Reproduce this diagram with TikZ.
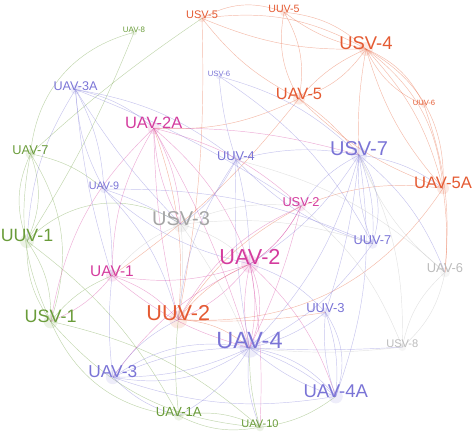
\documentclass[tikz,border=0pt]{standalone}
\usepackage{fontspec}
\setmainfont{Liberation Sans}
\definecolor{cO}{RGB}{228,90,50}
\definecolor{cP}{RGB}{122,116,214}
\definecolor{cM}{RGB}{212,60,158}
\definecolor{cG}{RGB}{106,156,58}
\definecolor{cY}{RGB}{165,165,165}
\definecolor{cL}{RGB}{188,188,188}
\tikzset{
  edge/.style={line width=0.45pt, opacity=0.42},
  eo/.style={edge, draw=cO},
  ep/.style={edge, draw=cP},
  em/.style={edge, draw=cM},
  eg/.style={edge, draw=cG},
  ey/.style={edge, draw=cL},
  lbl/.style={inner sep=0pt, anchor=center},
  glow/.style={opacity=0.13},
}
\newcommand\fs[1]{\fontsize{#1}{#1}\selectfont}
\begin{document}
\begin{tikzpicture}[x=1pt,y=1pt]
\useasboundingbox (0,0) rectangle (474,436);
% node points
\coordinate (pusv5) at (202,417.7);
\coordinate (puuv5) at (284,423.8);
\coordinate (pusv4) at (366,387);
\coordinate (puav8) at (134,403.6);
\coordinate (pusv6) at (219,359.7);
\coordinate (puav5) at (299,337.4);
\coordinate (puuv6) at (424,331);
\coordinate (puav3a) at (75.5,346.5);
\coordinate (puav2a) at (153.7,307.8);
\coordinate (puav7) at (30.5,282.2);
\coordinate (puuv4) at (236,276.2);
\coordinate (pusv7) at (359,281);
\coordinate (puav5a) at (443,247.7);
\coordinate (puav9) at (104,246.8);
\coordinate (pusv3) at (181,211.7);
\coordinate (pusv2) at (301,229.7);
\coordinate (puuv1) at (27,194.9);
\coordinate (puuv7) at (372.5,192.2);
\coordinate (puav6) at (445,163.6);
\coordinate (puav1) at (112,160.3);
\coordinate (puav2) at (250,172);
\coordinate (puuv2) at (178.3,116.5);
\coordinate (pusv1) at (50.7,114.6);
\coordinate (puuv3) at (325.5,123.6);
\coordinate (puav4) at (249.5,88.2);
\coordinate (pusv8) at (402.3,88.9);
\coordinate (puav3) at (112.8,58.8);
\coordinate (puav4a) at (335.8,39.6);
\coordinate (puav1a) at (178.8,20.3);
\coordinate (puav10) at (260,8.7);

% ---- green edges
\draw[eg] (puav8) to[bend right=35] (puav7);
\draw[eg] (puav8) to[bend left=5] (puuv1);
\draw[eg] (pusv5) to[bend right=4] (puav7);
\draw[eg] (puav7) to[bend left=22] (puuv1);
\draw[eg] (puav7) to[bend right=22] (puuv1);
\draw[eg] (puav7) to[bend left=25] (pusv1);
\draw[eg] (puav7) to[bend right=18] (pusv1);
\draw[eg] (puuv1) to[bend left=18] (pusv1);
\draw[eg] (puuv1) to[bend right=18] (pusv1);
\draw[eg] (puuv1) to[bend left=40] (pusv3);
\draw[eg] (puuv1) to[bend left=12] (puav1a);
\draw[eg] (pusv1) to[bend right=30] (puav1a);
\draw[eg] (pusv1) to[bend left=14] (puav10);
\draw[eg] (pusv1) to[bend right=22] (puav10);
\draw[eg] (pusv1) to[bend left=14] (puav1);
\draw[eg] (puav1a) to[bend left=18] (puav10);
\draw[eg] (puav1a) to[bend right=18] (puav10);
\draw[eg] (puav1a) to[bend left=6] (puuv2);
\draw[eg] (puav10) to[bend right=14] (puav4a);
\draw[eg] (puav10) to[bend left=8] (puav4);
\draw[eg] (puav7) to[bend left=14] (puav9);

% ---- orange edges
\draw[eo] (pusv5) to[bend left=25] (puuv5);
\draw[eo] (pusv5) to[bend left=18] (pusv4);
\draw[eo] (pusv5) to[bend right=12] (pusv4);
\draw[eo] (puuv5) to[bend left=18] (pusv4);
\draw[eo] (pusv4) to[bend left=12] (puuv5);
\draw[eo] (puuv5) to[bend left=20] (puav5);
\draw[eo] (puav5) to[bend left=20] (puuv5);
\draw[eo] (pusv4) to[bend left=18] (puav5);
\draw[eo] (puav5) to[bend left=12] (pusv4);
\draw[eo] (pusv4) to[bend left=20] (puuv6);
\draw[eo] (puuv6) to[bend left=20] (pusv4);
\draw[eo] (pusv4) to[bend left=14] (puav5a);
\draw[eo] (pusv4) to[bend left=24] (puav5a);
\draw[eo] (pusv4) to[bend left=32] (puav5a);
\draw[eo] (pusv4) to[bend right=12] (puav5a);
\draw[eo] (pusv4) to[bend right=6] (pusv7);
\draw[eo] (puuv6) to[bend left=12] (puav6);
\draw[eo] (puav5) to[bend left=8] (pusv7);
\draw[eo] (puav5) to[bend right=12] (puav5a);
\draw[eo] (pusv5) to[bend left=6] (puuv2);
\draw[eo] (pusv5) to[bend right=12] (puav5);
\draw[eo] (puav5) to[bend left=14] (puav2a);
\draw[eo] (puav5) to[bend left=8] (puav1);
\draw[eo] (puav5a) to[bend right=14] (pusv2);
\draw[eo] (puav5a) to[bend left=30] (puuv2);
\draw[eo] (puav5a) to[bend left=6] (puav6);
\draw[eo] (puuv2) to[bend left=14] (puav2);
\draw[eo] (puuv2) to[bend left=18] (puav4);
\draw[eo] (puuv2) to[bend right=6] (puuv3);
\draw[eo] (puuv2) to[bend left=14] (pusv2);
\draw[eo] (puuv2) to[bend right=12] (puav2a);

% ---- magenta edges
\draw[em] (puav2a) to[bend left=12] (pusv3);
\draw[em] (puav2a) to[bend right=12] (pusv3);
\draw[em] (puav2a) to[bend left=14] (puav2);
\draw[em] (puav2a) to[bend right=15] (puav1);
\draw[em] (puav2a) to[bend right=6] (puuv2);
\draw[em] (puav2a) to[bend left=14] (pusv2);
\draw[em] (puav2a) to[bend left=8] (pusv7);
\draw[em] (puav2a) to[bend left=6] (puav4);
\draw[em] (puav2a) to[bend right=18] (pusv1);
\draw[em] (puav2) to[bend left=12] (puav4);
\draw[em] (puav2) to[bend right=12] (puav4);
\draw[em] (puav2) to[bend left=24] (puav4);
\draw[em] (puav2) to[bend left=14] (puuv2);
\draw[em] (puav2) to[bend right=14] (pusv2);
\draw[em] (puav2) to[bend left=14] (puav1);
\draw[em] (puav2) to[bend right=14] (puav3);
\draw[em] (puav2) to[bend left=14] (puav4a);
\draw[em] (puav2) to[bend left=6] (puav10);
\draw[em] (puav1) to[bend left=14] (puuv2);
\draw[em] (puav1) to[bend left=14] (pusv1);
\draw[em] (puav1) to[bend right=12] (puav4);
\draw[em] (pusv2) to[bend left=6] (puav4);
\draw[em] (pusv2) to[bend left=14] (puav2);
\draw[em] (pusv2) to[bend right=18] (puuv2);

% ---- purple edges
\draw[ep] (puav3a) to[bend left=12] (puav9);
\draw[ep] (puav3a) to[bend right=12] (puav9);
\draw[ep] (puav3a) to[bend right=6] (pusv3);
\draw[ep] (puav3a) to[bend left=14] (puav2a);
\draw[ep] (puav3a) to[bend left=14] (puuv4);
\draw[ep] (puav3a) to[bend left=6] (pusv2);
\draw[ep] (puav3a) to[bend right=14] (puuv1);
\draw[ep] (puav3a) to[bend right=6] (puav1);
\draw[ep] (puav9) to[bend left=6] (pusv3);
\draw[ep] (puav9) to[bend left=12] (puuv7);
\draw[ep] (puav9) to[bend right=14] (puav2);
\draw[ep] (puav9) to[bend left=6] (puav1);
\draw[ep] (puav9) to[bend left=14] (puuv2);
\draw[ep] (pusv6) to[bend left=14] (pusv7);
\draw[ep] (pusv6) to[bend right=6] (puuv4);
\draw[ep] (pusv6) to[bend left=14] (puuv7);
\draw[ep] (puuv4) to[bend left=12] (pusv7);
\draw[ep] (puuv4) to[bend right=14] (puuv7);
\draw[ep] (puuv4) to[bend left=6] (puav2);
\draw[ep] (puuv4) to[bend right=6] (puav4);
\draw[ep] (puuv4) to[bend left=14] (pusv3);
\draw[ep] (puuv4) to[bend right=14] (puuv2);
\draw[ep] (pusv7) to[bend left=12] (puuv7);
\draw[ep] (pusv7) to[bend right=12] (puuv7);
\draw[ep] (pusv7) to[bend left=26] (puuv7);
\draw[ep] (pusv7) to[bend left=14] (puav6);
\draw[ep] (pusv7) to[bend right=14] (pusv2);
\draw[ep] (pusv7) to[bend left=12] (puav2);
\draw[ep] (pusv7) to[bend left=14] (puav4);
\draw[ep] (pusv7) to[bend left=14] (puav5a);
\draw[ep] (pusv7) to[bend left=6] (puuv3);
\draw[ep] (pusv7) to[bend left=14] (puav4a);
\draw[ep] (puuv7) to[bend left=14] (puav4);
\draw[ep] (puuv3) to[bend left=12] (puav4a);
\draw[ep] (puuv3) to[bend right=12] (puav4a);
\draw[ep] (puuv3) to[bend left=26] (puav4a);
\draw[ep] (puuv3) to[bend left=12] (puav4);
\draw[ep] (puuv3) to[bend right=14] (puav2);
\draw[ep] (puav4) to[bend left=10] (puav4a);
\draw[ep] (puav4) to[bend right=10] (puav4a);
\draw[ep] (puav4) to[bend left=20] (puav4a);
\draw[ep] (puav4) to[bend left=12] (puav3);
\draw[ep] (puav4) to[bend right=12] (puav3);
\draw[ep] (puav4) to[bend left=22] (puav3);
\draw[ep] (puav4) to[bend right=22] (puav3);
\draw[ep] (puav4) to[bend left=14] (puav1a);
\draw[ep] (puav4) to[bend right=14] (puav10);
\draw[ep] (puav4) to[bend right=3] (pusv8);
\draw[ep] (puav3) to[bend right=14] (puav1a);
\draw[ep] (puav3) to[bend left=6] (puav1);
\draw[ep] (puav3) to[bend left=14] (puuv2);
\draw[ep] (puav3) to[bend right=14] (puav4a);

% ---- grey edges
\draw[ey] (pusv3) to[bend left=14] (puav2);
\draw[ey] (pusv3) to[bend left=6] (puav4);
\draw[ey] (pusv3) to[bend left=14] (pusv2);
\draw[ey] (pusv3) to[bend left=12] (puuv7);
\draw[ey] (pusv3) to[bend right=14] (puav1);
\draw[ey] (pusv3) to[bend left=6] (puuv2);
\draw[ey] (puav6) to[bend left=18] (pusv8);
\draw[ey] (pusv8) to[bend left=18] (puav6);
\draw[ey] (puav6) to[bend left=14] (pusv7);
\draw[ey] (pusv8) to[bend right=14] (pusv2);
\draw[ey] (pusv8) to[bend left=6] (puav4);
\draw[ey] (puav6) to[bend right=14] (puuv4);
\draw[ey] (pusv8) to[bend right=14] (pusv7);

% ---- glows
\fill[cO, glow] (pusv5) circle (4);
\fill[cO, glow] (puuv5) circle (4);
\fill[cO, glow] (pusv4) circle (7);
\fill[cG, glow] (puav8) circle (3);
\fill[cP, glow] (pusv6) circle (3);
\fill[cO, glow] (puav5) circle (6);
\fill[cO, glow] (puuv6) circle (3);
\fill[cP, glow] (puav3a) circle (5);
\fill[cM, glow] (puav2a) circle (6);
\fill[cG, glow] (puav7) circle (5);
\fill[cP, glow] (puuv4) circle (5);
\fill[cP, glow] (pusv7) circle (8);
\fill[cO, glow] (puav5a) circle (6);
\fill[cP, glow] (puav9) circle (4);
\fill[cY, glow] (pusv3) circle (8);
\fill[cM, glow] (pusv2) circle (5);
\fill[cG, glow] (puuv1) circle (7);
\fill[cP, glow] (puuv7) circle (5);
\fill[cL, glow] (puav6) circle (5);
\fill[cM, glow] (puav1) circle (6);
\fill[cM, glow] (puav2) circle (9);
\fill[cO, glow] (puuv2) circle (9);
\fill[cG, glow] (pusv1) circle (7);
\fill[cP, glow] (puuv3) circle (5);
\fill[cP, glow] (puav4) circle (10);
\fill[cL, glow] (pusv8) circle (4);
\fill[cP, glow] (puav3) circle (7);
\fill[cP, glow] (puav4a) circle (7);
\fill[cG, glow] (puav1a) circle (5);
\fill[cG, glow] (puav10) circle (4);

% ---- labels
\node[lbl, text=cO, font=\fs{11}] (usv5) at (202,421) {USV-5};
\node[lbl, text=cO, font=\fs{10.6}] (uuv5) at (284,427) {UUV-5};
\node[lbl, text=cO, font=\fs{18.4}] (usv4) at (366,392.5) {USV-4};
\node[lbl, text=cG, font=\fs{7.9}] (uav8) at (134,406) {UAV-8};
\node[lbl, text=cP, font=\fs{7.7}] (usv6) at (219,362) {USV-6};
\node[lbl, text=cO, font=\fs{16.4}] (uav5) at (299,342.3) {UAV-5};
\node[lbl, text=cO, font=\fs{7.6}] (uuv6) at (424,333.3) {UUV-6};
\node[lbl, text=cP, font=\fs{12.6}] (uav3a) at (75.5,350.3) {UAV-3A};
\node[lbl, text=cM, font=\fs{16.4}] (uav2a) at (153.7,312.7) {UAV-2A};
\node[lbl, text=cG, font=\fs{12.8}] (uav7) at (30.5,286) {UAV-7};
\node[lbl, text=cP, font=\fs{12.8}] (uuv4) at (236,280) {UUV-4};
\node[lbl, text=cP, font=\fs{20}] (usv7) at (359,287) {USV-7};
\node[lbl, text=cO, font=\fs{16.6}] (uav5a) at (443,252.7) {UAV-5A};
\node[lbl, text=cP, font=\fs{10.8}] (uav9) at (104,250) {UAV-9};
\node[lbl, text=cY, font=\fs{20}] (usv3) at (181,217.7) {USV-3};
\node[lbl, text=cM, font=\fs{12.8}] (usv2) at (301,233.5) {USV-2};
\node[lbl, text=cG, font=\fs{17.8}] (uuv1) at (27,200.3) {UUV-1};
\node[lbl, text=cP, font=\fs{12.8}] (uuv7) at (372.5,196) {UUV-7};
\node[lbl, text=cL, font=\fs{12.9}] (uav6) at (445,167.5) {UAV-6};
\node[lbl, text=cM, font=\fs{15.5}] (uav1) at (112,165) {UAV-1};
\node[lbl, text=cM, font=\fs{21.7}] (uav2) at (250,178.5) {UAV-2};
\node[lbl, text=cO, font=\fs{21.6}] (uuv2) at (178.3,123) {UUV-2};
\node[lbl, text=cG, font=\fs{18}] (usv1) at (50.7,120) {USV-1};
\node[lbl, text=cP, font=\fs{13}] (uuv3) at (325.5,127.5) {UUV-3};
\node[lbl, text=cP, font=\fs{23.5}] (uav4) at (249.5,95.2) {UAV-4};
\node[lbl, text=cL, font=\fs{11.1}] (usv8) at (402.3,92.2) {USV-8};
\node[lbl, text=cP, font=\fs{17.3}] (uav3) at (112.8,64) {UAV-3};
\node[lbl, text=cP, font=\fs{18.5}] (uav4a) at (335.8,45.2) {UAV-4A};
\node[lbl, text=cG, font=\fs{13.2}] (uav1a) at (178.8,24.3) {UAV-1A};
\node[lbl, text=cG, font=\fs{11}] (uav10) at (260,12) {UAV-10};
\end{tikzpicture}
\end{document}
